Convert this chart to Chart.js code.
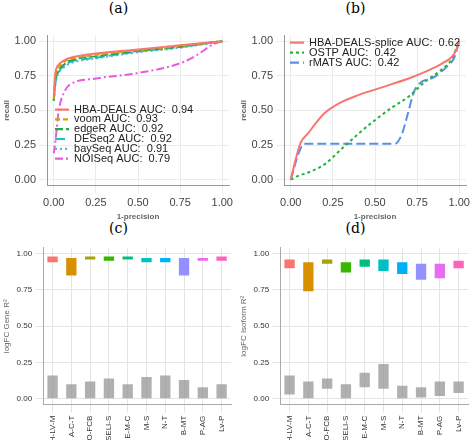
<!DOCTYPE html>
<html><head><meta charset="utf-8">
<script src="https://cdn.jsdelivr.net/npm/chart.js@4"></script>
<style>
body{margin:0;background:#fff;width:474px;height:440px;position:relative;overflow:hidden}
.p{position:absolute}
.t{position:absolute;width:237px;text-align:center;font-family:"DejaVu Serif",serif;font-size:14px}
</style></head><body>
<div class="t" style="left:0;top:0">(a)</div>
<div class="t" style="left:237px;top:0">(b)</div>
<div class="t" style="left:0;top:220px">(c)</div>
<div class="t" style="left:237px;top:220px">(d)</div>
<div class="p" style="left:0;top:26px;width:237px;height:196px"><canvas id="ca"></canvas></div>
<div class="p" style="left:237px;top:26px;width:237px;height:196px"><canvas id="cb"></canvas></div>
<div class="p" style="left:0;top:240px;width:237px;height:212px"><canvas id="cc"></canvas></div>
<div class="p" style="left:237px;top:240px;width:237px;height:212px"><canvas id="cd"></canvas></div>
<script>
// Panel (a) PR curves
const aNames=["HBA-DEALS AUC:  0.94","voom AUC:  0.93","edgeR AUC:  0.92","DESeq2 AUC:  0.92","baySeq AUC:  0.91","NOISeq AUC:  0.79"];
const aX=[0,0.01,0.03,0.06,0.1,0.25,0.5,0.75,1];
const aHBA=[0.6,0.77,0.83,0.86,0.88,0.91,0.94,0.97,1];
const aVoom=[0.58,0.75,0.81,0.85,0.87,0.9,0.935,0.965,1];
const aEdgeR=[0.57,0.72,0.79,0.83,0.86,0.89,0.93,0.96,1];
const aDESeq2=[0.57,0.7,0.78,0.82,0.85,0.88,0.925,0.957,1];
const aBaySeq=[0.57,0.69,0.77,0.81,0.84,0.875,0.92,0.952,1];
const aNoiX=[0,0.01,0.03,0.07,0.1,0.25,0.5,0.75,0.85,0.95,1];
const aNOISeq=[0.19,0.28,0.5,0.65,0.69,0.73,0.77,0.84,0.9,0.98,1];
// Panel (b)
const bNames=["HBA-DEALS-splice AUC:  0.62","OSTP AUC:  0.42","rMATS AUC:  0.42"];
const bHbaX=[0,0.03,0.06,0.1,0.15,0.2,0.3,0.4,0.5,0.6,0.7,0.8,0.9,0.95,0.98,1];
const bHba=[0,0.15,0.27,0.33,0.41,0.48,0.56,0.61,0.65,0.69,0.73,0.78,0.84,0.88,0.93,1];
const bOstpX=[0,0.05,0.1,0.2,0.3,0.4,0.5,0.6,0.7,0.8,0.9,0.95,1];
const bOstp=[0,0.03,0.05,0.11,0.22,0.33,0.43,0.52,0.6,0.71,0.8,0.86,1];
const bRmatsX=[0,0.05,0.08,0.62,0.66,0.7,0.73,0.76,0.85,0.93,0.97,1];
const bRmats=[0,0.2,0.26,0.26,0.33,0.5,0.63,0.69,0.74,0.82,0.88,1];
// Panels (c),(d)
const tissues=["H-LV-M","A-C-T","O-FCB","S-SELI-S","E-M-C","M-S","N-T","B-MT","P-AG","Lv-P"];
const cTrueMin=[0.94,0.85,0.96,0.95,0.96,0.94,0.94,0.85,0.95,0.95];
const cTrueMax=[0.98,0.97,0.98,0.98,0.98,0.97,0.97,0.97,0.97,0.98];
const cNullMin=[0,0,0,0,0,0,0,0,0,0];
const cNullMax=[0.16,0.1,0.12,0.14,0.1,0.15,0.16,0.13,0.08,0.1];
const dTrueMin=[0.9,0.74,0.93,0.87,0.91,0.88,0.86,0.82,0.83,0.9];
const dTrueMax=[0.96,0.94,0.96,0.94,0.96,0.96,0.94,0.93,0.93,0.95];
const dNullMin=[0.03,0,0.07,0,0.08,0.07,0,0.01,0.02,0.04];
const dNullMax=[0.16,0.12,0.14,0.1,0.18,0.24,0.09,0.08,0.12,0.12];
const hue=["#F8766D","#D89000","#A3A500","#39B600","#00BF7D","#00BFC4","#00B0F6","#9590FF","#E76BF3","#FF62BC"];

const F="'Liberation Sans',Arial,sans-serif";
const pts=(xs,ys)=>xs.map((x,i)=>({x,y:ys[i]}));
const legendPlugin={id:'lg',afterDatasetsDraw(ch,a,o){
  if(!o.items)return;const c=ch.ctx,ar=ch.chartArea;
  c.save();c.font="11px "+F;c.textBaseline='middle';
  o.items.forEach((it,i)=>{const y=ar.top+o.y+i*o.dy,x=ar.left+o.x;
    c.strokeStyle=it.c;c.lineWidth=2.2;c.setLineDash(it.d||[]);
    c.beginPath();c.moveTo(x,y);c.lineTo(x+14,y);c.stroke();c.setLineDash([]);
    c.fillStyle='#222';c.fillText(it.t,x+19,y);});
  c.restore();}};
Chart.register(legendPlugin);
function prOpts(items,lx,ly,dy){return{responsive:true,maintainAspectRatio:false,animation:false,
  layout:{padding:{left:2,right:8,top:4,bottom:0}},
  plugins:{legend:{display:false},tooltip:{enabled:false},lg:{items,x:lx,y:ly,dy}},
  elements:{point:{radius:0},line:{borderWidth:2,cubicInterpolationMode:'monotone'}},
  scales:{x:{type:'linear',min:-0.04,max:1.04,afterBuildTicks:s=>{s.ticks=[0,0.25,0.5,0.75,1].map(v=>({value:v}))},
    ticks:{callback:v=>v.toFixed(2),font:{size:11,family:F},color:'#444',maxRotation:0},
    grid:{color:'#ebebeb'},border:{color:'#999'},
    title:{display:true,text:'1-precision',font:{size:8,weight:'bold',family:F},padding:0}},
   y:{min:-0.04,max:1.04,afterBuildTicks:s=>{s.ticks=[0,0.25,0.5,0.75,1].map(v=>({value:v}))},
    ticks:{callback:v=>v.toFixed(2),font:{size:11,family:F},color:'#444'},
    grid:{color:'#ebebeb'},border:{color:'#999'},
    title:{display:true,text:'recall',font:{size:8,weight:'bold',family:F},padding:0}}}};}
const ds=(d,c,dash,w)=>({data:d,borderColor:c,borderDash:dash,borderWidth:w||2,fill:false});
const aCols=["#F8766D","#D8A000","#22A84A","#20C0C8","#6FA8E8","#E65BE0"];
const aDash=[[],[5,3],[8,3],[10,4],[2,3],[8,3,2,3]];
new Chart(ca,{type:'line',data:{datasets:[
 ds(pts(aX,aHBA),aCols[0],aDash[0]),
 ds(pts(aX,aVoom),aCols[1],aDash[1]),
 ds(pts(aX,aEdgeR),aCols[2],aDash[2]),
 ds(pts(aX,aDESeq2),aCols[3],aDash[3]),
 ds(pts(aX,aBaySeq),aCols[4],aDash[4]),
 ds(pts(aNoiX,aNOISeq),aCols[5],aDash[5])]},
 options:prOpts(aNames.map((t,i)=>({t,c:aCols[i],d:aDash[i]})),8,74,9.8)});
const bCols=["#F8766D","#22B33A","#5A8FE8"],bDash=[[],[3,3],[9,4]];
new Chart(cb,{type:'line',data:{datasets:[
 ds(pts(bHbaX,bHba),bCols[0],bDash[0]),ds(pts(bOstpX,bOstp),bCols[1],bDash[1]),ds(pts(bRmatsX,bRmats),bCols[2],bDash[2])]},
 options:prOpts(bNames.map((t,i)=>({t,c:bCols[i],d:bDash[i]})),6,7,10)});
function jOpts(ytitle){return{responsive:true,maintainAspectRatio:false,animation:false,
  layout:{padding:{left:0,right:6,top:0,bottom:0}},
  plugins:{legend:{display:false},tooltip:{enabled:false}},
  scales:{x:{ticks:{font:{size:8,family:F},color:'#333',maxRotation:90,minRotation:90},
    grid:{color:'#e4e4e4',offset:false},border:{color:'#aaa'}},
   y:{min:-0.04,max:1.04,afterBuildTicks:s=>{s.ticks=[0,0.25,0.5,0.75,1].map(v=>({value:v}))},
    ticks:{callback:v=>v.toFixed(2),font:{size:8,family:F},color:'#333'},
    grid:{color:'#e4e4e4'},border:{color:'#aaa'},
    title:{display:true,text:ytitle,font:{size:8,family:F},padding:2}}}};}
function jData(tmin,tmax,nmin,nmax){return{labels:tissues,datasets:[
 {data:tissues.map((_,i)=>[nmin[i],nmax[i]]),backgroundColor:'rgba(150,150,150,0.75)',grouped:false,barPercentage:0.55,categoryPercentage:1},
 {data:tissues.map((_,i)=>[tmin[i],tmax[i]]),backgroundColor:hue,grouped:false,barPercentage:0.55,categoryPercentage:1}]};}
new Chart(cc,{type:'bar',data:jData(cTrueMin,cTrueMax,cNullMin,cNullMax),options:jOpts('logFC Gene R²')});
new Chart(cd,{type:'bar',data:jData(dTrueMin,dTrueMax,dNullMin,dNullMax),options:jOpts('logFC Isoform R²')});
</script></body></html>
